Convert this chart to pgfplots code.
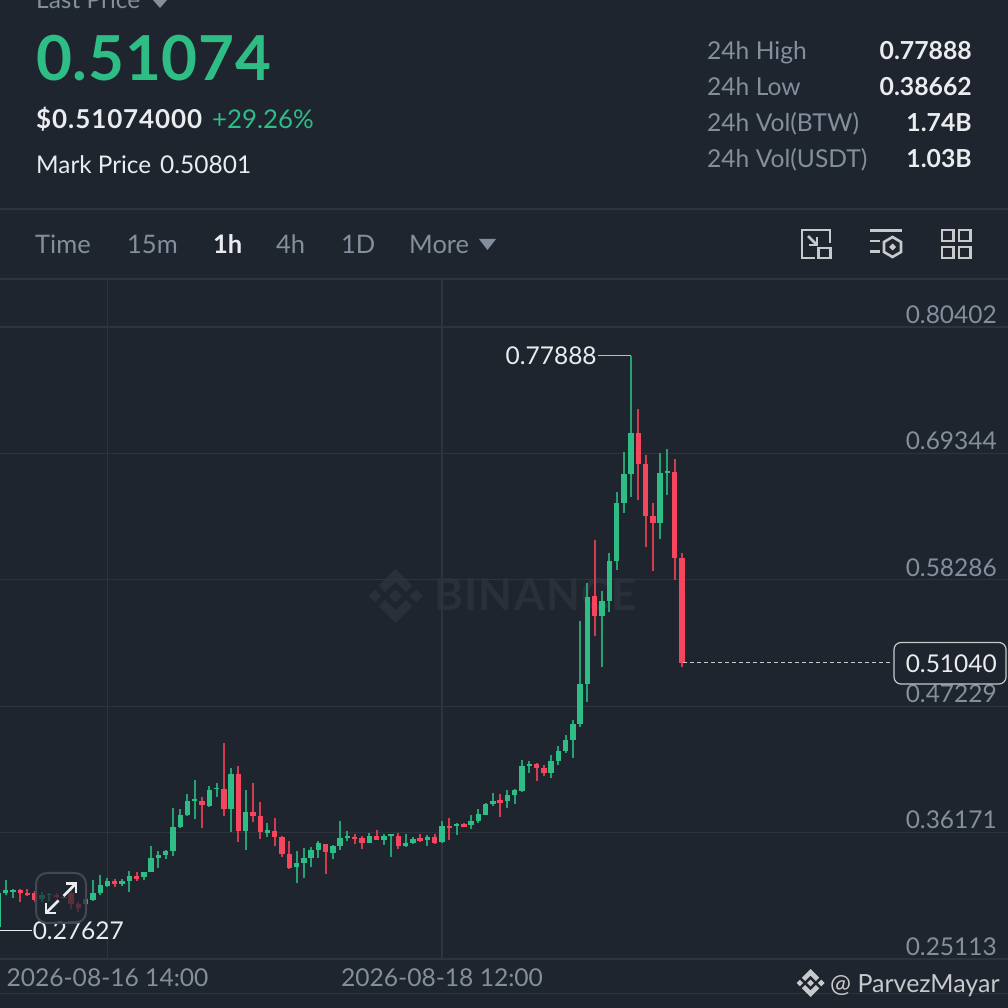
\documentclass[border=0pt]{standalone}
\usepackage{pgfplots}
\usepackage{pgfplotstable}
\usepackage{fontspec}
\pgfplotsset{compat=1.18}
\setmainfont{Lato}

\definecolor{bg}{HTML}{1E252E}
\definecolor{gridc}{HTML}{2E343D}
\definecolor{btnc}{HTML}{434953}
\definecolor{txtgray}{HTML}{848E9C}
\definecolor{txtwhite}{HTML}{EAECEF}
\definecolor{upc}{HTML}{2EBD85}
\definecolor{downc}{HTML}{F6465D}
\definecolor{wmark}{HTML}{2A303A}

\newcommand{\fs}[1]{\fontsize{#1}{#1}\selectfont}
% binance diamond, radius 1
\newcommand{\bnblogo}[4]{%
\begin{scope}[shift={(#1,#2)},x=#3pt,y=#3pt]
\fill[#4] (0,-1)--(.62,-.38)--(.38,-.14)--(0,-.52)--(-.38,-.14)--(-.62,-.38)--cycle;
\fill[#4] (0,1)--(.62,.38)--(.38,.14)--(0,.52)--(-.38,.14)--(-.62,.38)--cycle;
\fill[#4] (0,-.24)--(.24,0)--(0,.24)--(-.24,0)--cycle;
\fill[#4] (-.76,-.24)--(-.52,0)--(-.76,.24)--(-1,0)--cycle;
\fill[#4] (.76,-.24)--(1,0)--(.76,.24)--(.52,0)--cycle;
\end{scope}}

% hour, open, high, low, close
\pgfplotstableread{
h o hi lo c
-15 .2788 .3100 .2763 .3091
-14 .3086 .3202 .3071 .3115
-13 .3098 .3120 .3049 .3115
-9 .3036 .3094 .3013 .3071
-8 .3068 .3086 .3019 .3080
-6 .3042 .3071 .3042 .3056
-3 .2989 .3056 .2981 .3033
-2 .3027 .3199 .3016 .3088
-1 .3086 .3246 .3074 .3156
0 .3153 .3217 .3144 .3197
2 .3170 .3208 .3153 .3191
3 .3191 .3284 .3097 .3237
5 .3226 .3275 .3200 .3272
6 .3272 .3497 .3269 .3392
7 .3395 .3453 .3310 .3424
8 .3424 .3465 .3386 .3453
9 .3456 .3829 .3412 .3663
10 .3663 .3821 .3654 .3768
11 .3771 .3955 .3765 .3891
12 .3891 .4077 .3736 .3911
14 .3852 .4028 .3844 .3993
15 .3995 .4048 .3931 .4010
17 .3823 .4179 .3625 .4130
19 .3631 .3990 .3465 .3794
22 .3616 .3698 .3578 .3637
26 .3313 .3456 .3179 .3354
27 .3354 .3479 .3220 .3395
28 .3398 .3494 .3316 .3465
29 .3465 .3540 .3392 .3523
31 .3441 .3508 .3389 .3500
32 .3497 .3718 .3465 .3567
33 .3570 .3628 .3540 .3590
36 .3526 .3613 .3523 .3587
38 .3552 .3605 .3511 .3584
39 .3584 .3605 .3406 .3602
41 .3497 .3602 .3491 .3529
42 .3526 .3575 .3514 .3564
44 .3552 .3599 .3503 .3578
46 .3532 .3716 .3526 .3675
48 .3675 .3698 .3596 .3689
50 .3684 .3771 .3649 .3719
51 .3719 .3824 .3704 .3777
52 .3774 .3873 .3774 .3867
53 .3867 .3961 .3850 .3897
55 .3894 .3987 .3832 .3946
56 .3946 .3999 .3864 .3990
57 .3984 .4249 .3972 .4197
58 .4200 .4246 .4138 .4217
61 .4141 .4296 .4095 .4246
62 .4246 .4372 .4211 .4334
63 .4331 .4468 .4310 .4427
64 .4427 .4599 .4273 .4564
65 .4567 .5471 .4538 .4917
66 .4917 .5798 .4760 .5681
68 .5512 .5731 .5069 .5643
69 .5643 .6060 .5550 .5993
70 .5993 .6594 .5917 .6501
71 .6503 .6944 .6410 .6754
72 .6754 .77888 .6556 .7110
76 .6328 .6935 .6183 .6760
77 .6760 .6970 .6571 .6780
}\upcandles

\pgfplotstableread{
h o hi lo c
-12 .3115 .3123 .3013 .3091
-11 .3091 .3123 .3065 .3071
-10 .3091 .3106 .3013 .3027
-7 .3071 .3086 .3044 .3050
-5 .3091 .3153 .2949 .2992
-4 .2989 .3013 .2925 .2954
1 .3197 .3211 .3144 .3164
4 .3240 .3269 .3191 .3214
13 .3896 .3931 .3660 .3855
16 .3998 .4398 .3765 .3823
18 .4130 .4200 .3538 .3631
20 .3794 .4048 .3707 .3765
21 .3762 .3885 .3564 .3619
23 .3634 .3742 .3497 .3578
24 .3578 .3590 .3403 .3427
25 .3427 .3543 .3298 .3310
30 .3517 .3520 .3258 .3444
34 .3578 .3602 .3514 .3558
35 .3570 .3584 .3473 .3526
37 .3584 .3637 .3552 .3555
40 .3587 .3616 .3473 .3497
43 .3567 .3602 .3535 .3543
45 .3581 .3605 .3520 .3529
47 .3675 .3745 .3549 .3654
49 .3689 .3704 .3669 .3669
54 .3899 .3955 .3756 .3876
59 .4217 .4229 .4068 .4185
60 .4185 .4206 .4112 .4141
67 .5687 .6177 .5337 .5512
73 .7110 .7326 .6527 .6842
74 .6839 .6920 .6119 .6390
75 .6387 .6498 .5909 .6323
78 .6772 .6885 .5824 .6022
79 .6022 .6066 .5063 .5104
}\downcandles

\begin{document}
\begin{tikzpicture}
\useasboundingbox (0,0) rectangle (1008pt,1008pt);
\fill[bg] (0,0) rectangle (1008pt,1008pt);

% everything drawn in scope uses pixel coordinates, y down
\begin{scope}[shift={(0,1008pt)},x=1pt,y=-1pt]
\bnblogo{395.5}{596}{27}{wmark}
\node[anchor=base west,inner sep=0pt,text=wmark] at (434,611) {\fs{44}\bfseries\addfontfeatures{LetterSpace=3}BINANCE};
\end{scope}

\begin{axis}[
    at={(0,49pt)},
    anchor=south west,
    scale only axis,
    width=1008pt,
    height=679pt,
    xmin=-14.78,
    xmax=123.83,
    ymin=0.25113,
    ymax=0.84513,
    axis line style={draw=none},
    major tick length=0pt,
    xtick={0,46},
    xticklabels={2026-08-16 14:00,2026-08-18 12:00},
    ytick={0.25113,0.36171,0.47229,0.58286,0.69344,0.80402},
    yticklabels={0.25113,0.36171,0.47229,0.58286,0.69344,0.80402},
    yticklabel pos=right,
    xmajorgrids,
    ymajorgrids,
    grid style={gridc,line width=1.2pt},
    xticklabel style={font=\fs{24.6},text=txtgray,anchor=base,inner sep=0pt,yshift=-27.5pt},
    yticklabel style={font=\fs{24.5},text=txtgray,anchor=east,inner sep=0pt,xshift=-11pt,yshift=12.5pt},
]

% wicks
\addplot[quiver={u=0,v=\thisrow{hi}-\thisrow{lo}},draw=upc!85!black,line width=2pt,mark=none] table[x=h,y=lo] {\upcandles};
\addplot[quiver={u=0,v=\thisrow{hi}-\thisrow{lo}},draw=downc!85!black,line width=2pt,mark=none] table[x=h,y=lo] {\downcandles};
% bodies
\addplot[quiver={u=0,v=\thisrow{c}-\thisrow{o}},draw=upc,line width=5.4pt,mark=none] table[x=h,y=o] {\upcandles};
\addplot[quiver={u=0,v=\thisrow{c}-\thisrow{o}},draw=downc,line width=5.4pt,mark=none] table[x=h,y=o] {\downcandles};

% high, low and current price leaders
\addplot[draw=txtwhite!80!black,line width=1.2pt,mark=none] coordinates {(67.45,0.77888) (72,0.77888)};
\addplot[draw=txtwhite,line width=1.2pt,mark=none] coordinates {(-14.78,0.27627) (-10.4,0.27627)};
\addplot[draw=txtwhite!85!black,line width=1pt,dash pattern=on 4pt off 3pt,mark=none] coordinates {(79.2,0.5104) (108,0.5104)};

\node[anchor=east,inner sep=0pt,text=txtwhite] at (axis cs:67.3,0.77888) {\fs{24.5}0.77888};
\node[anchor=west,inner sep=0pt,text=txtwhite] at (axis cs:-10.3,0.2757) {\fs{24.5}0.27627};
\end{axis}

\begin{scope}[shift={(0,1008pt)},x=1pt,y=-1pt]
% header
\node[anchor=base west,inner sep=0pt,text=txtgray] at (36,9) {\fs{24.5}Last Price};
\fill[txtgray] (153,0)--(167,0)--(160,8)--cycle;
\node[anchor=base west,inner sep=0pt,text=upc] at (36,81) {\fs{62}\bfseries\addfontfeatures{LetterSpace=1.2}0.51074};
\node[anchor=base west,inner sep=0pt,text=txtwhite] at (36,129) {\fs{26}\bfseries\addfontfeatures{LetterSpace=3.5}\$0.51074000};
\node[anchor=base west,inner sep=0pt,text=upc] at (212,129) {\fs{25.8}+29.26\%};
\node[anchor=base west,inner sep=0pt,text=txtwhite] at (36,174) {\fs{24.3}Mark Price};
\node[anchor=base west,inner sep=0pt,text=txtwhite] at (160,174) {\fs{24.5}0.50801};

% 24h stats
\foreach \yy/\lab/\val in {60/24h High/0.77888,96/24h Low/0.38662,132/24h Vol(BTW)/1.74B,168/24h Vol(USDT)/1.03B}{
  \node[anchor=base west,inner sep=0pt,text=txtgray] at (707,\yy) {\fs{24.6}\lab};
  \node[anchor=base east,inner sep=0pt,text=txtwhite] at (972,\yy) {\fs{24.8}\bfseries\val};
}

\draw[gridc,line width=1.2pt] (0,209)--(1008,209);
\draw[gridc,line width=1.2pt] (0,279)--(1008,279);
\draw[gridc,line width=1.2pt] (0,993.5)--(1008,993.5);

% interval tabs
\foreach \xx/\lab in {35/Time,127/15m,276/4h,341/1D,409/More}{
  \node[anchor=base west,inner sep=0pt,text=txtgray] at (\xx,254) {\fs{25.5}\lab};
}
\node[anchor=base west,inner sep=0pt,text=txtwhite] at (213,254) {\fs{25.5}\bfseries 1h};
\fill[txtgray] (479,239)--(496,239)--(487.5,250)--cycle;

% toolbar icons
\begin{scope}[draw=txtwhite!85!black,line width=2.6pt]
\draw (815,258)--(802,258)--(802,230)--(830,230)--(830,243);
\draw (818.5,248)rectangle(830.5,258);
\draw (808,236)--(817,245);
\draw (809,245)--(817,245)--(817,237);
\draw (870,230.5)--(902,230.5);
\draw (870,241)--(880,241);
\draw (870,251.5)--(880,251.5);
\draw (892.5,237)--(901,242)--(901,252)--(892.5,257)--(884,252)--(884,242)--cycle;
\fill[txtwhite!85!black] (892.5,243.5)--(896,247)--(892.5,250.5)--(889,247)--cycle;
\draw (942,230)rectangle(953.5,241);
\draw (959,230)rectangle(970.5,241);
\draw (942,247)rectangle(953.5,258);
\draw (959,247)rectangle(970.5,258);
\end{scope}

% price tag
\draw[txtwhite!85!black,fill=bg,line width=1.2pt,rounded corners=7pt] (894,642.5) rectangle (1006,684);
\node[anchor=east,inner sep=0pt,text=txtwhite] at (997,664) {\fs{24.5}0.51040};

% expand button
\draw[btnc,fill=bg,fill opacity=.72,draw opacity=1,line width=2pt,rounded corners=11pt] (36,873) rectangle (86,923);
\begin{scope}[draw=txtwhite,line width=2.6pt]
\draw (63.5,896)--(76,883.5);
\draw (66,883.5)--(76,883.5)--(76,893.5);
\draw (58.5,900.5)--(46,913);
\draw (46,903)--(46,913)--(56,913);
\end{scope}

% footer
\bnblogo{810.5}{983}{14}{txtwhite!85!black}
\node[anchor=base west,inner sep=0pt,text=txtwhite!85!black] at (830,992) {\fs{25}@ ParvezMayar};
\end{scope}
\end{tikzpicture}
\end{document}
